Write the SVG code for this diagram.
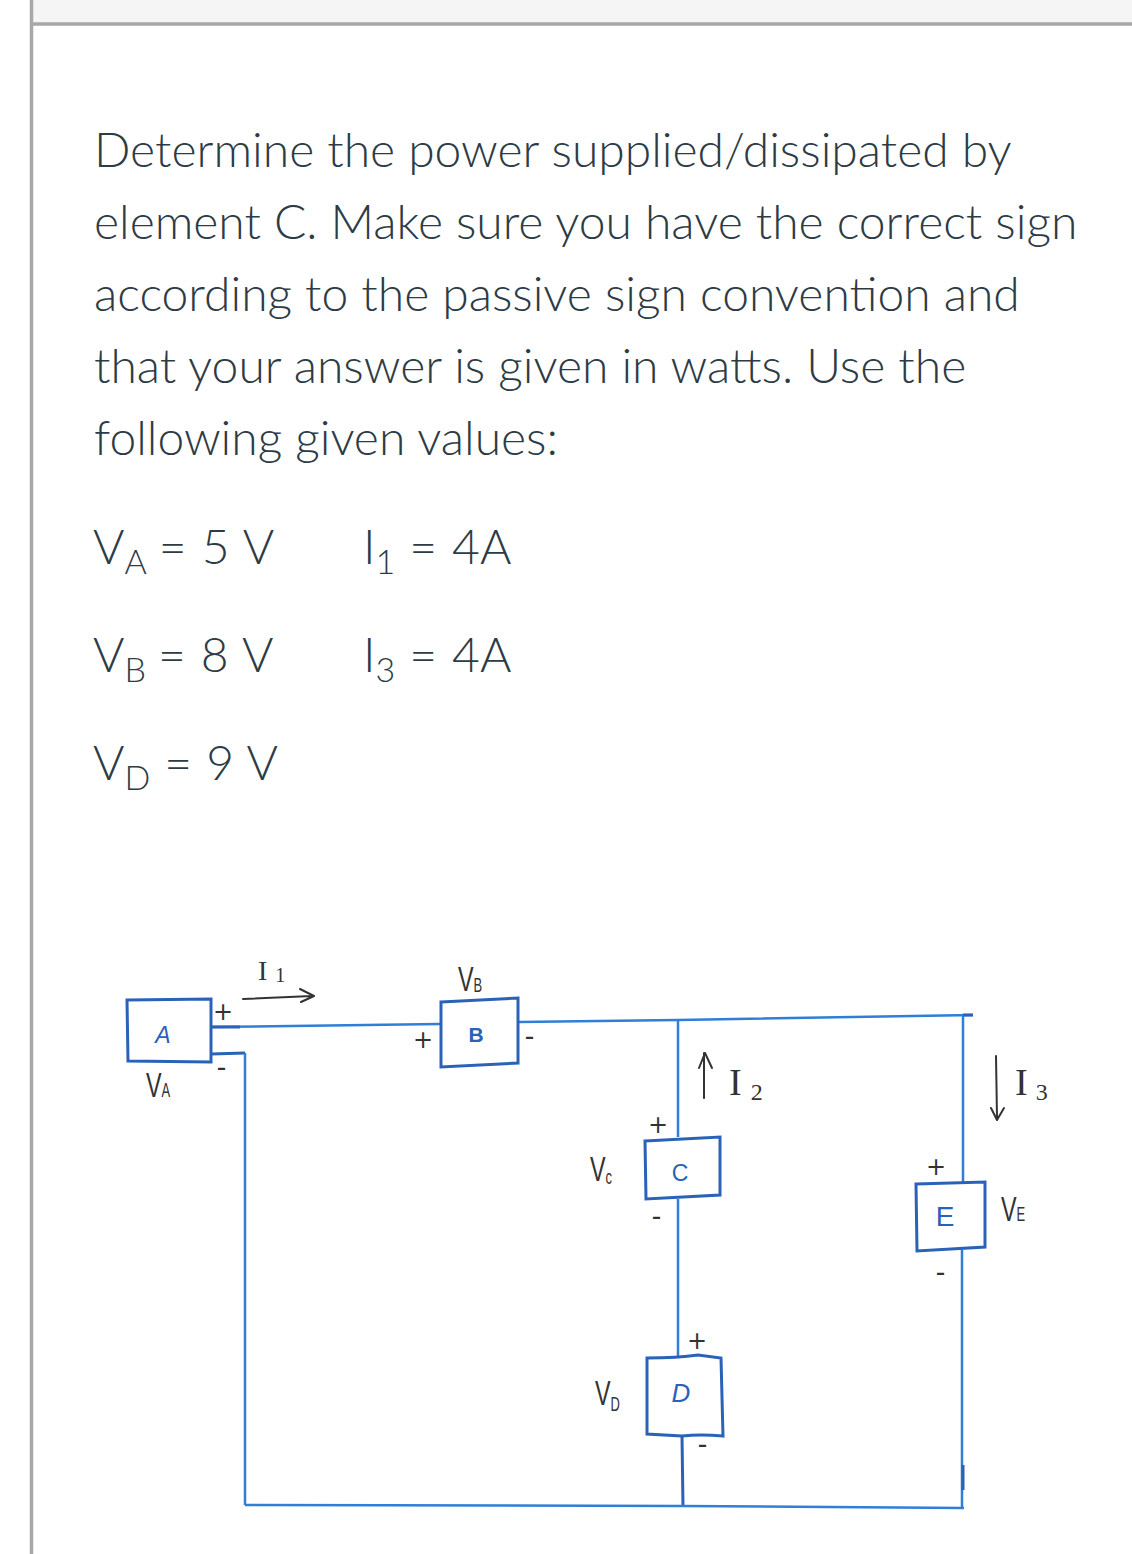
<svg xmlns="http://www.w3.org/2000/svg" width="1132" height="1554" viewBox="0 0 1132 1554">
<style>
.q{font-family:Lato,"Open Sans",sans-serif;font-weight:300;font-size:48px;fill:#2d3b45}
.g{font-family:Lato,"Open Sans",sans-serif;font-weight:300;font-size:48px;fill:#2d3b45;word-spacing:2px}
.s{font-size:34px}
.w{fill:none;stroke:#2f7fd6;stroke-width:2.5}
.t{fill:none;stroke:#2a62b8;stroke-width:3}
.b{fill:#fff;stroke:#2a62b8;stroke-width:3}
.l{font-family:"Liberation Sans",sans-serif;fill:#2a62b8;text-anchor:middle}
.h{font-family:"Liberation Sans",sans-serif;fill:#333;font-size:36px}
.i{font-family:"Liberation Serif",serif;fill:#333;font-size:38px}
.m{font-family:"DejaVu Sans",sans-serif;fill:#333;font-size:24px}
.d{font-family:"DejaVu Sans",sans-serif;fill:#333;font-size:18px;font-weight:bold}
.sub{font-size:20px}
.k{fill:none;stroke:#333;stroke-width:2;stroke-linecap:round;stroke-linejoin:round}
</style>
<rect width="1132" height="1554" fill="#fff"/>
<g id="frame">
<rect x="33" y="0" width="1099" height="23" fill="#f5f5f5"/>
<path d="M31.500 0V1554M31 24H1132" fill="none" stroke="#a8a8a8" stroke-width="3.500"/>
</g>
<g id="question">
<text class="q" x="94" y="167">Determine the power supplied/dissipated by</text>
<text class="q" x="94" y="239">element C. Make sure you have the correct sign</text>
<text class="q" x="94" y="311">according to the passive sign convention and</text>
<text class="q" x="94" y="383">that your answer is given in watts. Use the</text>
<text class="q" x="94" y="455">following given values:</text>
</g>
<g id="values">
<text class="g" x="93" y="564">V<tspan class="s" dy="10">A</tspan><tspan dy="-10" dx="12">= 5 V</tspan></text>
<text class="g" x="363" y="564">I<tspan class="s" dy="10">1</tspan><tspan dy="-10" dx="14">= 4A</tspan></text>
<text class="g" x="93" y="672">V<tspan class="s" dy="10">B</tspan><tspan dy="-10" dx="12">= 8 V</tspan></text>
<text class="g" x="363" y="672">I<tspan class="s" dy="10">3</tspan><tspan dy="-10" dx="14">= 4A</tspan></text>
<text class="g" x="93" y="780">V<tspan class="s" dy="10">D</tspan><tspan dy="-10" dx="14" word-spacing="1">= 9 V</tspan></text>
</g>
<g id="connectors">
<path class="w" d="M208 1027L440 1024"/>
<path class="t" d="M208 1027L240 1027"/>
<path class="t" d="M211 1054L245 1053"/>
<path class="w" d="M245 1053V1505"/>
<path class="w" d="M519 1022L678 1020L973 1015"/>
<path class="w" d="M678 1020V1137M678 1199V1357"/>
<path class="t" d="M682 1436L683 1507"/>
<path class="w" d="M245 1505L682 1506L964 1508"/>
<path class="w" d="M963 1016V1182M962 1250V1508"/>
<path class="t" d="M963 1015L973 1015M963 1465V1490"/>
<path class="k" stroke-width="3" d="M243 999L312 996M300 989L314 996L301 1002"/>
<path class="k" d="M704 1098V1053M699 1068L705 1053L712 1068"/>
<path class="k" d="M996 1056L997 1118M991 1108L997 1120L1004 1108"/>
</g>
<g id="node-a"><path class="b" d="M127 1000L211 999V1062L128 1061Z"/><text class="l" x="163" y="1043" font-size="23" font-style="italic">A</text></g>
<g id="node-b"><path class="b" d="M441 1002L518 998V1063L441 1067Z"/><text class="l" x="476" y="1042" font-size="21" font-weight="bold">B</text></g>
<g id="node-c"><path class="b" d="M645 1141L720 1137V1195L646 1199Z"/><text class="l" x="680" y="1181" font-size="23">C</text></g>
<g id="node-d"><path class="b" d="M647 1358Q678 1358 698 1355L721 1358L723 1436Q700 1434 682 1436L647 1434Z"/><text class="l" x="681" y="1402" font-size="26" font-style="italic">D</text></g>
<g id="node-e"><path class="b" d="M916 1184L985 1182V1247L917 1251Z"/><text class="l" x="945" y="1226" font-size="28">E</text></g>
<g id="labels">
<text class="i" x="258" y="980" font-size="28" style="font-size:28px">I<tspan class="sub" dx="8" dy="2">1</tspan></text>
<text class="h" transform="translate(458 991) scale(.65 1)">V<tspan class="sub" dy="1">B</tspan></text>
<text class="h" transform="translate(146 1097) scale(.65 1)">V<tspan class="sub">A</tspan></text>
<text class="h" transform="translate(590 1181) scale(.65 1)">V<tspan class="sub" dy="3">c</tspan></text>
<text class="h" transform="translate(595 1405) scale(.65 1)">V<tspan class="sub" dy="6">D</tspan></text>
<text class="h" transform="translate(1001 1221) scale(.65 1)">V<tspan class="sub">E</tspan></text>
<text class="i" x="729" y="1095">I<tspan class="sub" dy="5" dx="9" style="font-size:24px">2</tspan></text>
<text class="i" x="1015" y="1095">I<tspan class="sub" dy="5" dx="8" style="font-size:24px">3</tspan></text>
<text class="m" x="213" y="1020">+</text>
<text class="m" x="413" y="1048">+</text>
<text class="m" x="648" y="1133">+</text>
<text class="m" x="926" y="1175">+</text>
<text class="m" x="687" y="1349">+</text>
<text class="d" x="217" y="1074">–</text>
<text class="d" x="525" y="1043">–</text>
<text class="d" x="652" y="1223">–</text>
<text class="d" x="936" y="1279">–</text>
<text class="d" x="698" y="1451">–</text>
</g>
</svg>
